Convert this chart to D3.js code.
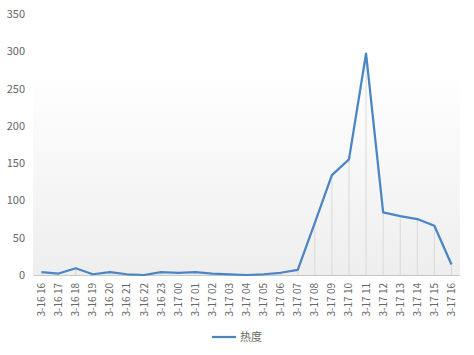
<!DOCTYPE html>
<html><head><meta charset="utf-8">
<script src="https://cdn.jsdelivr.net/npm/d3@7"></script>
<style>body{margin:0;background:#fff;}svg{display:block;}</style>
</head><body><svg id="c" width="474" height="355"></svg>
<script>
const categories = ["3-16 16","3-16 17","3-16 18","3-16 19","3-16 20","3-16 21","3-16 22","3-16 23",
  "3-17 00","3-17 01","3-17 02","3-17 03","3-17 04","3-17 05","3-17 06","3-17 07","3-17 08",
  "3-17 09","3-17 10","3-17 11","3-17 12","3-17 13","3-17 14","3-17 15","3-17 16"];
const values = [4,2,9,1,4,1,0,4,3,4,2,1,0,1,3,7,70,134,155,297,84,79,75,66,14];
const yTicks = [0,50,100,150,200,250,300,350];
const seriesName = "热度";

const svg = d3.select("#c");
const m = {l:33, r:14, t:14, b:80};
const W = 474, H = 355;
const x = d3.scaleBand().domain(categories).range([m.l, W-m.r]);
const y = d3.scaleLinear().domain([0,350]).range([H-m.b, m.t]);
const font = "'Microsoft YaHei','Noto Sans CJK SC','Liberation Sans',Arial,sans-serif";

const defs = svg.append("defs");
const g = defs.append("linearGradient").attr("id","bg").attr("x1",0).attr("y1",0).attr("x2",0).attr("y2",1);
g.append("stop").attr("offset","0%").attr("stop-color","#ffffff");
g.append("stop").attr("offset","22%").attr("stop-color","#ffffff");
g.append("stop").attr("offset","100%").attr("stop-color","#eeeeee");

svg.append("rect").attr("x",m.l).attr("y",y(350)).attr("width",W-m.r-m.l).attr("height",y(0)-y(350)).attr("fill","url(#bg)");

const cx = d => x(d) + x.bandwidth()/2;

// drop lines
svg.append("g").selectAll("line").data(categories).join("line")
  .attr("x1",(d)=>cx(d)).attr("x2",(d)=>cx(d))
  .attr("y1",(d,i)=>y(values[i])).attr("y2",y(0))
  .attr("stroke","#d9d9d9").attr("stroke-width",1);

// x axis
const xa = svg.append("g").attr("transform",`translate(0,${y(0)})`).call(d3.axisBottom(x).tickSize(0).tickPadding(0));
xa.select(".domain").attr("stroke","#c8c8c8");
xa.selectAll("text").attr("transform","rotate(-90)").attr("text-anchor","end")
  .attr("x",-8).attr("y",0).attr("dy","0.35em").attr("fill","#666666")
  .style("font-family",font).style("font-size","10px");

// y axis
const ya = svg.append("g").attr("transform",`translate(${m.l},0)`).call(d3.axisLeft(y).tickValues(yTicks).tickSize(0).tickPadding(8));
ya.select(".domain").remove();
ya.selectAll("text").attr("fill","#666666").style("font-family",font).style("font-size","11px");

// line
svg.append("path").datum(values)
  .attr("d", d3.line().x((d,i)=>cx(categories[i])).y(d=>y(d)))
  .attr("fill","none").attr("stroke","#4a85c4").attr("stroke-width",2.25).attr("stroke-linejoin","round");

// legend
svg.append("line").attr("x1",212).attr("x2",236).attr("y1",337).attr("y2",337).attr("stroke","#4a85c4").attr("stroke-width",2.25);
svg.append("text").attr("x",240).attr("y",337).attr("dy","0.35em").text(seriesName)
  .attr("fill","#666666").style("font-family",font).style("font-size","11px");
</script></body></html>
